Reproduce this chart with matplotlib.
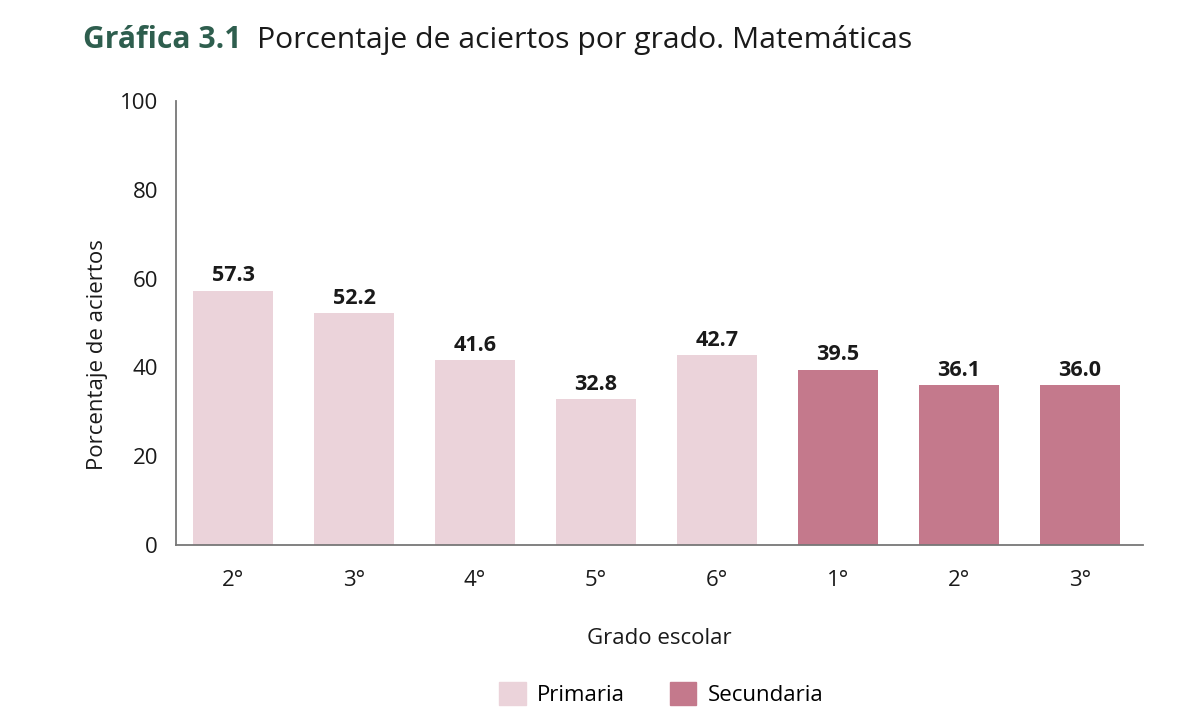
import matplotlib.pyplot as plt
from matplotlib.patches import Patch

grados = ["2°", "3°", "4°", "5°", "6°", "1°", "2°", "3°"]
valores = [57.3, 52.2, 41.6, 32.8, 42.7, 39.5, 36.1, 36.0]
nivel = ["Primaria"] * 5 + ["Secundaria"] * 3

colores = {"Primaria": "#EBD3DA", "Secundaria": "#C4798C"}
plt.rcParams['font.family'] = ['Open Sans', 'DejaVu Sans']

fig = plt.figure(figsize=(12, 7.23), dpi=100)
ax = fig.add_axes([0.1467, 0.2462, 0.8058, 0.6141])

x = list(range(len(valores)))
bars = ax.bar(x, valores, width=0.66, color=[colores[n] for n in nivel])
for b, v in zip(bars, valores):
    ax.annotate(f"{v:.1f}", (b.get_x() + b.get_width() / 2, v),
                xytext=(0, 3), textcoords="offset points",
                ha="center", va="bottom", fontsize=15.5, fontweight="bold", color="#1a1a1a")

ax.set_xlim(-0.471, 7.52)
ax.set_ylim(0, 100)
ax.set_yticks([0, 20, 40, 60, 80, 100])
ax.set_xticks(x)
ax.set_xticklabels(grados)
ax.tick_params(length=0, labelsize=16, colors="#1a1a1a")
ax.tick_params(axis="x", pad=18)
ax.tick_params(axis="y", pad=13)
for s in ["top", "right"]:
    ax.spines[s].set_visible(False)
for s in ["left", "bottom"]:
    ax.spines[s].set_color("#777777")
    ax.spines[s].set_linewidth(1.3)

ax.set_xlabel("Grado escolar", fontsize=16, color="#1a1a1a")
ax.set_ylabel("Porcentaje de aciertos", fontsize=16, color="#1a1a1a")
ax.xaxis.set_label_coords(0.5, -0.187)
ax.yaxis.set_label_coords(-0.07, 0.43)

fig.text(0.069, 0.945, "Gráfica 3.1", fontsize=21.7, fontweight="bold", color="#2E5E4E", va="center")
fig.text(0.214, 0.945, "Porcentaje de aciertos por grado. Matemáticas", fontsize=21.7, color="#1a1a1a", va="center")

handles = [Patch(color=colores["Primaria"], label="Primaria"),
           Patch(color=colores["Secundaria"], label="Secundaria")]
fig.legend(handles=handles, loc="center", bbox_to_anchor=(0.551, 0.04), ncol=2,
           frameon=False, fontsize=16, handlelength=1.2, handleheight=1.2,
           columnspacing=2.0, handletextpad=0.5)

fig.savefig("out.png", dpi=100)
